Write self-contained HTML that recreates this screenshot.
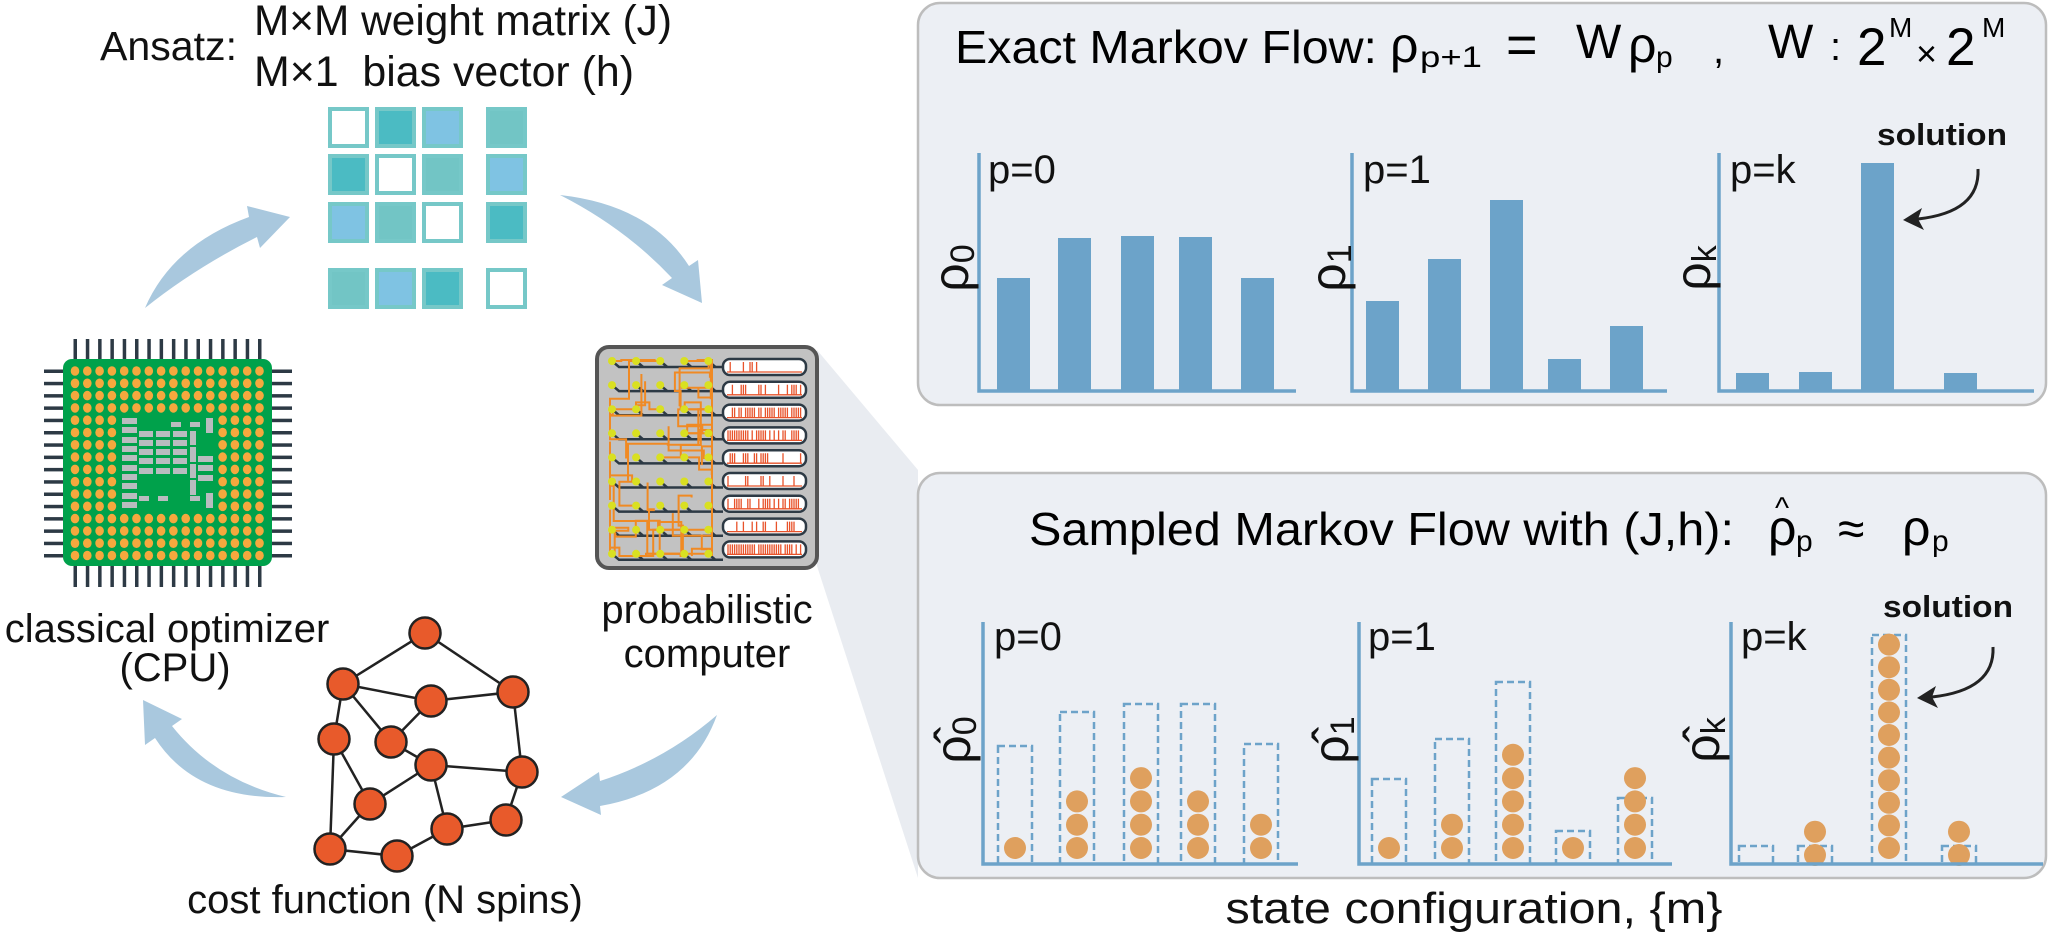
<!DOCTYPE html>
<html><head><meta charset="utf-8"><style>
html,body{margin:0;padding:0;background:#fff;}
svg{display:block;font-family:"Liberation Sans",Arial,sans-serif;}
</style></head><body>
<svg id="s" width="2049" height="936" viewBox="0 0 2049 936" xmlns="http://www.w3.org/2000/svg">
<!-- wedge -->
<polygon points="817,350 918,470 918,878 817,566" fill="#e9ecf1"/>
<!-- panels -->
<rect x="918" y="3" width="1128" height="402" rx="22" fill="#eceff4" stroke="#bdbdbd" stroke-width="2.5"/>
<rect x="918" y="473" width="1128" height="405" rx="22" fill="#eceff4" stroke="#bdbdbd" stroke-width="2.5"/>

<!-- Ansatz -->
<text x="100" y="60" font-size="41" fill="#111" textLength="137" lengthAdjust="spacingAndGlyphs">Ansatz:</text>
<text x="254" y="35" font-size="43" fill="#111" textLength="418" lengthAdjust="spacingAndGlyphs">M×M weight matrix (J)</text>
<text x="254" y="86" font-size="43" fill="#111" xml:space="preserve" textLength="380" lengthAdjust="spacingAndGlyphs">M×1  bias vector (h)</text>
<g id="mat"></g>

<!-- arrows -->
<g fill="#a9c8de">
<path d="M145,308 Q172,245 249,217 L247,206 L290,217 L260,248 L257,237 Q195,268 145,308 Z"/>
<path d="M560,195 Q650,205 689,266 L698,260 L702,303 L662,285 L672,278 Q625,228 560,195 Z"/>
<path d="M717,715 Q690,790 600,806 L601,815 L561,797 L599,772 L600,781 Q665,760 717,715 Z"/>
<path d="M286,797 Q195,800 155,738 L145,745 L143,700 L182,719 L172,726 Q215,780 286,797 Z"/>
</g>

<!-- CPU -->
<g id="cpu"></g>
<text x="167" y="642" font-size="40" text-anchor="middle" fill="#111">classical optimizer</text>
<text x="175" y="681" font-size="40" text-anchor="middle" fill="#111">(CPU)</text>

<!-- prob computer -->
<rect x="597" y="347" width="220" height="221" rx="12" fill="#c2c2c2" stroke="#555" stroke-width="4"/>
<g id="pc"></g>
<text x="707" y="623" font-size="40" text-anchor="middle" fill="#111">probabilistic</text>
<text x="707" y="667" font-size="40" text-anchor="middle" fill="#111">computer</text>

<!-- graph -->
<g id="graph"></g>
<text x="385" y="913" font-size="40" text-anchor="middle" fill="#111">cost function (N spins)</text>

<!-- top panel title -->
<g fill="#000">
<text x="955" y="63" font-size="46" textLength="422" lengthAdjust="spacingAndGlyphs">Exact Markov Flow:</text>
<text x="1390" y="62" font-size="50">ρ</text>
<text x="1420" y="67" font-size="30" textLength="62" lengthAdjust="spacingAndGlyphs">p+1</text>
<text x="1506" y="63" font-size="54">=</text>
<text x="1576" y="58" font-size="48">W</text>
<text x="1628" y="62" font-size="50">ρ</text>
<text x="1656" y="67" font-size="30">p</text>
<text x="1713" y="63" font-size="40">,</text>
<text x="1768" y="58" font-size="48">W</text>
<text x="1830" y="60" font-size="40">:</text>
<text x="1857" y="65" font-size="53">2</text>
<text x="1889" y="37" font-size="28">M</text>
<text x="1916" y="66" font-size="36">×</text>
<text x="1946" y="65" font-size="53">2</text>
<text x="1982" y="37" font-size="28">M</text>
</g>
<!-- bottom panel title -->
<g fill="#000">
<text x="1029" y="545" font-size="46" textLength="705" lengthAdjust="spacingAndGlyphs">Sampled Markov Flow with (J,h):</text>
<text x="1768" y="545" font-size="50">ρ</text>
<text x="1775" y="518" font-size="30">^</text>
<text x="1796" y="551" font-size="30">p</text>
<text x="1838" y="545" font-size="48">≈</text>
<text x="1902" y="545" font-size="50">ρ</text>
<text x="1932" y="551" font-size="30">p</text>
</g>
<g id="charts"></g>
<text x="1474" y="923" font-size="44" text-anchor="middle" fill="#111" textLength="497" lengthAdjust="spacingAndGlyphs">state configuration, {m}</text>

<!-- solution arrows -->
<text x="1877" y="145" font-size="31" font-weight="bold" fill="#111" textLength="130" lengthAdjust="spacingAndGlyphs">solution</text>
<path d="M1978,169 Q1980,212 1918,219" fill="none" stroke="#222" stroke-width="3"/>
<polygon points="1903,220 1922,208 1918,219 1924,230" fill="#222"/>
<text x="1883" y="617" font-size="31" font-weight="bold" fill="#111" textLength="130" lengthAdjust="spacingAndGlyphs">solution</text>
<path d="M1993,647 Q1995,690 1932,697" fill="none" stroke="#222" stroke-width="3"/>
<polygon points="1917,698 1936,686 1932,697 1938,708" fill="#222"/>
</svg>
<script>
const NS="http://www.w3.org/2000/svg";
function el(p,t,a){const e=document.createElementNS(NS,t);for(const k in a)e.setAttribute(k,a[k]);p.appendChild(e);return e;}
// matrix
const mat=document.getElementById('mat');
const W='#fff',T='#4bbbc3',B='#7fc3e3',M='#72c5c5';
const cols=[328,375,422,486],rows=[107,154,202,268];
const grid=[[W,T,B,M],[T,W,M,B],[B,M,W,T],[M,B,T,W]];
for(let r=0;r<4;r++)for(let c=0;c<4;c++){
 el(mat,'rect',{x:cols[c]+2,y:rows[r]+2,width:37,height:37,fill:grid[r][c],stroke:'#76c8c8','stroke-width':4});}
// CPU
const cpu=document.getElementById('cpu');
for(let i=0;i<16;i++){const x=75+i*12.3;
 el(cpu,'rect',{x:x-1.5,y:339,width:3.5,height:20,fill:'#2d3a45'});
 el(cpu,'rect',{x:x-1.5,y:566,width:3.5,height:21,fill:'#2d3a45'});}
for(let j=0;j<16;j++){const y=371+j*12.3;
 el(cpu,'rect',{x:44,y:y-1.5,width:20,height:3.5,fill:'#2d3a45'});
 el(cpu,'rect',{x:271,y:y-1.5,width:21,height:3.5,fill:'#2d3a45'});}
el(cpu,'rect',{x:63,y:359,width:209,height:207,rx:9,fill:'#00a14b'});
for(let j=0;j<16;j++)for(let i=0;i<16;i++){
 if(j>=4&&j<=11&&i>=4&&i<=11)continue;
 el(cpu,'ellipse',{cx:75+i*12.3,cy:371+j*12.3,rx:4.3,ry:4.8,fill:'#f5a83e'});}
const g=[[122,418,15,6],[122,427,15,6],[122,437,15,6],[122,446,15,6],[122,455,15,6],[122,465,15,6],[122,474,15,6],[122,483,15,6],[122,493,15,6],[122,502,15,6],
[190,431,6,14],[190,447,6,15],[190,464,6,14],[190,480,6,15],[171,422,10,5],[190,422,10,5],[206,418,7,15],[198,456,15,6],[198,465,15,6],[198,475,15,6],[139,496,10,5],[158,496,10,5],[190,496,10,5],[206,493,7,15]];
for(const r of [431,440,449,458,468])for(const c of [139,156,173])g.push([c,r,14,6]);
for(const q of g)el(cpu,'rect',{x:q[0],y:q[1],width:q[2],height:q[3],fill:'#b9bcbf'});
// prob computer
const pc=document.getElementById('pc');
let seed=7;function rnd(){seed=(seed*16807)%2147483647;return seed/2147483647;}
const dx=i=>612+i*24.1, dy=j=>361+j*24.1;
for(let j=0;j<9;j++){const y=dy(j)+6;
 el(pc,'path',{d:`M${dx(0)},${dy(j)} l7,6 L723,${y}`,fill:'none',stroke:'#2d3a45','stroke-width':2.5});
 for(let i=1;i<5;i++)el(pc,'path',{d:`M${dx(i)},${dy(j)} l7,6`,stroke:'#2d3a45','stroke-width':2.5});}
for(let k=0;k<30;k++){let i=Math.floor(rnd()*5),j=Math.floor(rnd()*9);
 let x=dx(i),y=dy(j);let d=`M${x},${y}`;
 for(let s=0;s<3;s++){x+= (rnd()-0.5)*80; x=Math.max(610,Math.min(712,x)); d+=` H${x.toFixed(1)}`; y+=(rnd()-0.5)*90; y=Math.max(360,Math.min(556,y)); d+=` V${y.toFixed(1)}`;}
 el(pc,'path',{d:d,fill:'none',stroke:'#f08a24','stroke-width':2});}
for(let j=0;j<9;j++)for(let i=0;i<5;i++)el(pc,'circle',{cx:dx(i),cy:dy(j),r:4,fill:'#d9e021'});
const dens=[0.12,0.45,0.8,0.8,0.45,0.12,0.8,0.45,0.8];
for(let j=0;j<9;j++){const cy=367+j*22.8;
 el(pc,'rect',{x:723,y:cy-8,width:83,height:16,rx:7,fill:'#fff',stroke:'#2d3a45','stroke-width':2.5});
 let d='';for(let x=728;x<801;x+=2.2){if(rnd()<dens[j])d+=`M${x.toFixed(1)},${cy-5}V${cy+5}`;}
 d+=`M727,${cy+5}H802`;
 el(pc,'path',{d:d,stroke:'#e8532b','stroke-width':1.3,fill:'none'});}
// graph
const gr=document.getElementById('graph');
const N=[[425,633],[343,684],[431,701],[513,692],[334,739],[391,742],[431,765],[522,772],[370,804],[506,820],[447,829],[330,849],[397,856]];
const E=[[0,1],[0,3],[1,2],[1,4],[1,5],[2,3],[2,5],[3,7],[5,6],[6,7],[4,8],[4,11],[6,8],[6,10],[7,9],[9,10],[10,12],[11,12],[8,11]];
for(const e of E)el(gr,'line',{x1:N[e[0]][0],y1:N[e[0]][1],x2:N[e[1]][0],y2:N[e[1]][1],stroke:'#222','stroke-width':2.5});
for(const n of N)el(gr,'circle',{cx:n[0],cy:n[1],r:15.5,fill:'#e85a2b',stroke:'#222','stroke-width':2.5});
// charts
const ch=document.getElementById('charts');
const ax='#6da3c9';
function axes(x,yt,yb,xe){el(ch,'path',{d:`M${x},${yt} V${yb} H${xe}`,fill:'none',stroke:ax,'stroke-width':3.5});}
function txt(x,y,s,size,extra){const t=el(ch,'text',Object.assign({x:x,y:y,'font-size':size,fill:'#111'},extra||{}));t.textContent=s;return t;}
// top
const tc=[[979,1296,'p=0',988,968,'0',[[997,278],[1058,238],[1121,236],[1179,237],[1241,278]]],
[1352,1667,'p=1',1363,1345,'1',[[1366,301],[1428,259],[1490,200],[1548,359],[1610,326]]],
[1719,2034,'p=k',1730,1710,'k',[[1736,373],[1799,372],[1861,163],[1944,373]]]];
for(const c of tc){
 for(const b of c[6])el(ch,'rect',{x:b[0],y:b[1],width:33,height:390-b[1],fill:'#6ca3c9'});
 axes(c[0],153,391,c[1]);
 txt(c[3],183,c[2],40);
 const t=el(ch,'text',{x:0,y:0,'font-size':50,fill:'#111',transform:`translate(${c[4]},268) rotate(-90)`,'text-anchor':'middle'});
 t.innerHTML='ρ<tspan font-size="34" dy="6">'+c[5]+'</tspan>';}
// bottom
const bc=[[983,1298,'p=0',994,970,'0',[[998,746,1],[1060,712,3],[1124,704,4],[1181,704,3],[1244,744,2]]],
[1359,1672,'p=1',1368,1348,'1',[[1372,779,1],[1435,739,2],[1496,682,5],[1556,831,1],[1618,798,4]]],
[1731,2043,'p=k',1741,1719,'k',[[1739,846,0],[1798,846,2],[1872,635,10],[1942,846,2]]]];
for(const c of bc){
 for(const b of c[6]){
  el(ch,'rect',{x:b[0],y:b[1],width:34,height:864-b[1],fill:'none',stroke:ax,'stroke-width':2.5,'stroke-dasharray':'7,4'});
  const small=b[1]>=840;
  for(let k=0;k<b[2];k++)el(ch,'circle',{cx:b[0]+17,cy:(small?855:848)-k*(b[2]>=10?22.6:23.3),r:11,fill:'#dfa05e'});}
 axes(c[0],622,864,c[1]);
 txt(c[3],650,c[2],40);
 const t=el(ch,'text',{x:0,y:0,'font-size':50,fill:'#111',transform:`translate(${c[4]},740) rotate(-90)`,'text-anchor':'middle'});
 t.innerHTML='ρ̂<tspan font-size="34" dy="6">'+c[5]+'</tspan>';}
</script>
</body></html>
